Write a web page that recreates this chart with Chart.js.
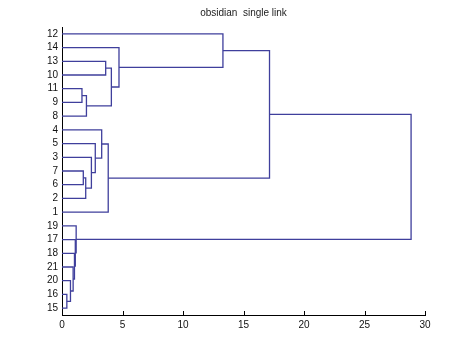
<!DOCTYPE html>
<html>
<head>
<meta charset="utf-8">
<script src="https://cdn.jsdelivr.net/npm/chart.js@4/dist/chart.umd.min.js"></script>
<style>
  html, body { margin: 0; padding: 0; background: #fff; }
  #wrap { width: 474px; height: 355px; }
</style>
</head>
<body>
<div id="wrap"><canvas id="c" width="474" height="355"></canvas></div>
<script>
// Leaf labels from bottom (position 1) to top (position 21)
const leafOrder = ['15','16','20','21','18','17','19','1','2','6','7','3','5','4','8','9','11','10','13','14','12'];

// Merge steps: cluster Cn joins mergeLeft[n-1] and mergeRight[n-1] at mergeHeight[n-1]
const mergeLeft   = ['15','C1','C2','C3','C4','C5','11','C7','13','C9','14','12','7','C13','3','5','4','C17','C12','C19'];
const mergeRight  = ['16','20','21','18','17','19','9','8','10','C8','C10','C11','6','2','C14','C15','C16','1','C18','C6'];
const mergeHeight = [0.40, 0.70, 0.92, 1.03, 1.10, 1.17, 1.65, 2.02, 3.61, 4.08, 4.71, 13.3, 1.76, 1.96, 2.43, 2.75, 3.28, 3.82, 17.15, 28.85];

const xTicks = [0, 5, 10, 15, 20, 25, 30];
const titleText = 'obsidian  single link';

const LINE = '#3f3f9c';
const FONT = "'Liberation Sans', Arial, Helvetica, sans-serif";

// Build node positions
const nodeY = {}, nodeH = {};
leafOrder.forEach((l, i) => { nodeY[l] = i + 1; nodeH[l] = 0; });
const datasets = [];
mergeHeight.forEach((h, i) => {
  const a = mergeLeft[i], b = mergeRight[i], id = 'C' + (i + 1);
  datasets.push({
    data: [
      {x: nodeH[a], y: nodeY[a]},
      {x: h, y: nodeY[a]},
      {x: h, y: nodeY[b]},
      {x: nodeH[b], y: nodeY[b]}
    ],
    borderColor: LINE,
    borderWidth: 1.3,
    pointRadius: 0,
    showLine: true,
    fill: false,
    tension: 0
  });
  nodeY[id] = (nodeY[a] + nodeY[b]) / 2;
  nodeH[id] = h;
});

const extras = {
  id: 'extras',
  afterDraw(chart) {
    const ctx = chart.ctx, ca = chart.chartArea, xs = chart.scales.x;
    ctx.save();
    ctx.strokeStyle = '#000';
    ctx.lineWidth = 1;
    xTicks.forEach(v => {
      const px = Math.round(xs.getPixelForValue(v)) + 0.5;
      ctx.beginPath();
      ctx.moveTo(px, ca.bottom);
      ctx.lineTo(px, ca.bottom - 4);
      ctx.stroke();
    });
    ctx.fillStyle = '#222';
    ctx.font = '10px ' + FONT;
    ctx.textAlign = 'center';
    ctx.textBaseline = 'middle';
    ctx.fillText(titleText, (ca.left + ca.right) / 2, 13);
    ctx.restore();
  }
};

new Chart(document.getElementById('c'), {
  type: 'scatter',
  data: { datasets },
  plugins: [extras],
  options: {
    responsive: false,
    animation: false,
    events: [],
    layout: { padding: { top: 27, right: 49, left: 0, bottom: 0 } },
    plugins: { legend: { display: false }, tooltip: { enabled: false }, title: { display: false } },
    scales: {
      x: {
        type: 'linear', min: 0, max: 30,
        afterBuildTicks: s => { s.ticks = xTicks.map(v => ({value: v})); },
        ticks: { font: { size: 10, family: FONT }, color: '#111', padding: 4, maxRotation: 0 },
        grid: { display: false, drawTicks: false },
        border: { display: true, color: '#000', width: 1 },
        afterFit: s => { s.height = 40; }
      },
      y: {
        type: 'linear', min: 0.5, max: 21.5,
        afterBuildTicks: s => { s.ticks = leafOrder.map((_, i) => ({value: i + 1})); },
        ticks: { font: { size: 10, family: FONT }, color: '#111', padding: 4, autoSkip: false,
                 callback: v => leafOrder[Math.round(v) - 1] },
        grid: { display: false, drawTicks: false },
        border: { display: true, color: '#000', width: 1 },
        afterFit: s => { s.width = 62; }
      }
    }
  }
});
</script>
</body>
</html>
